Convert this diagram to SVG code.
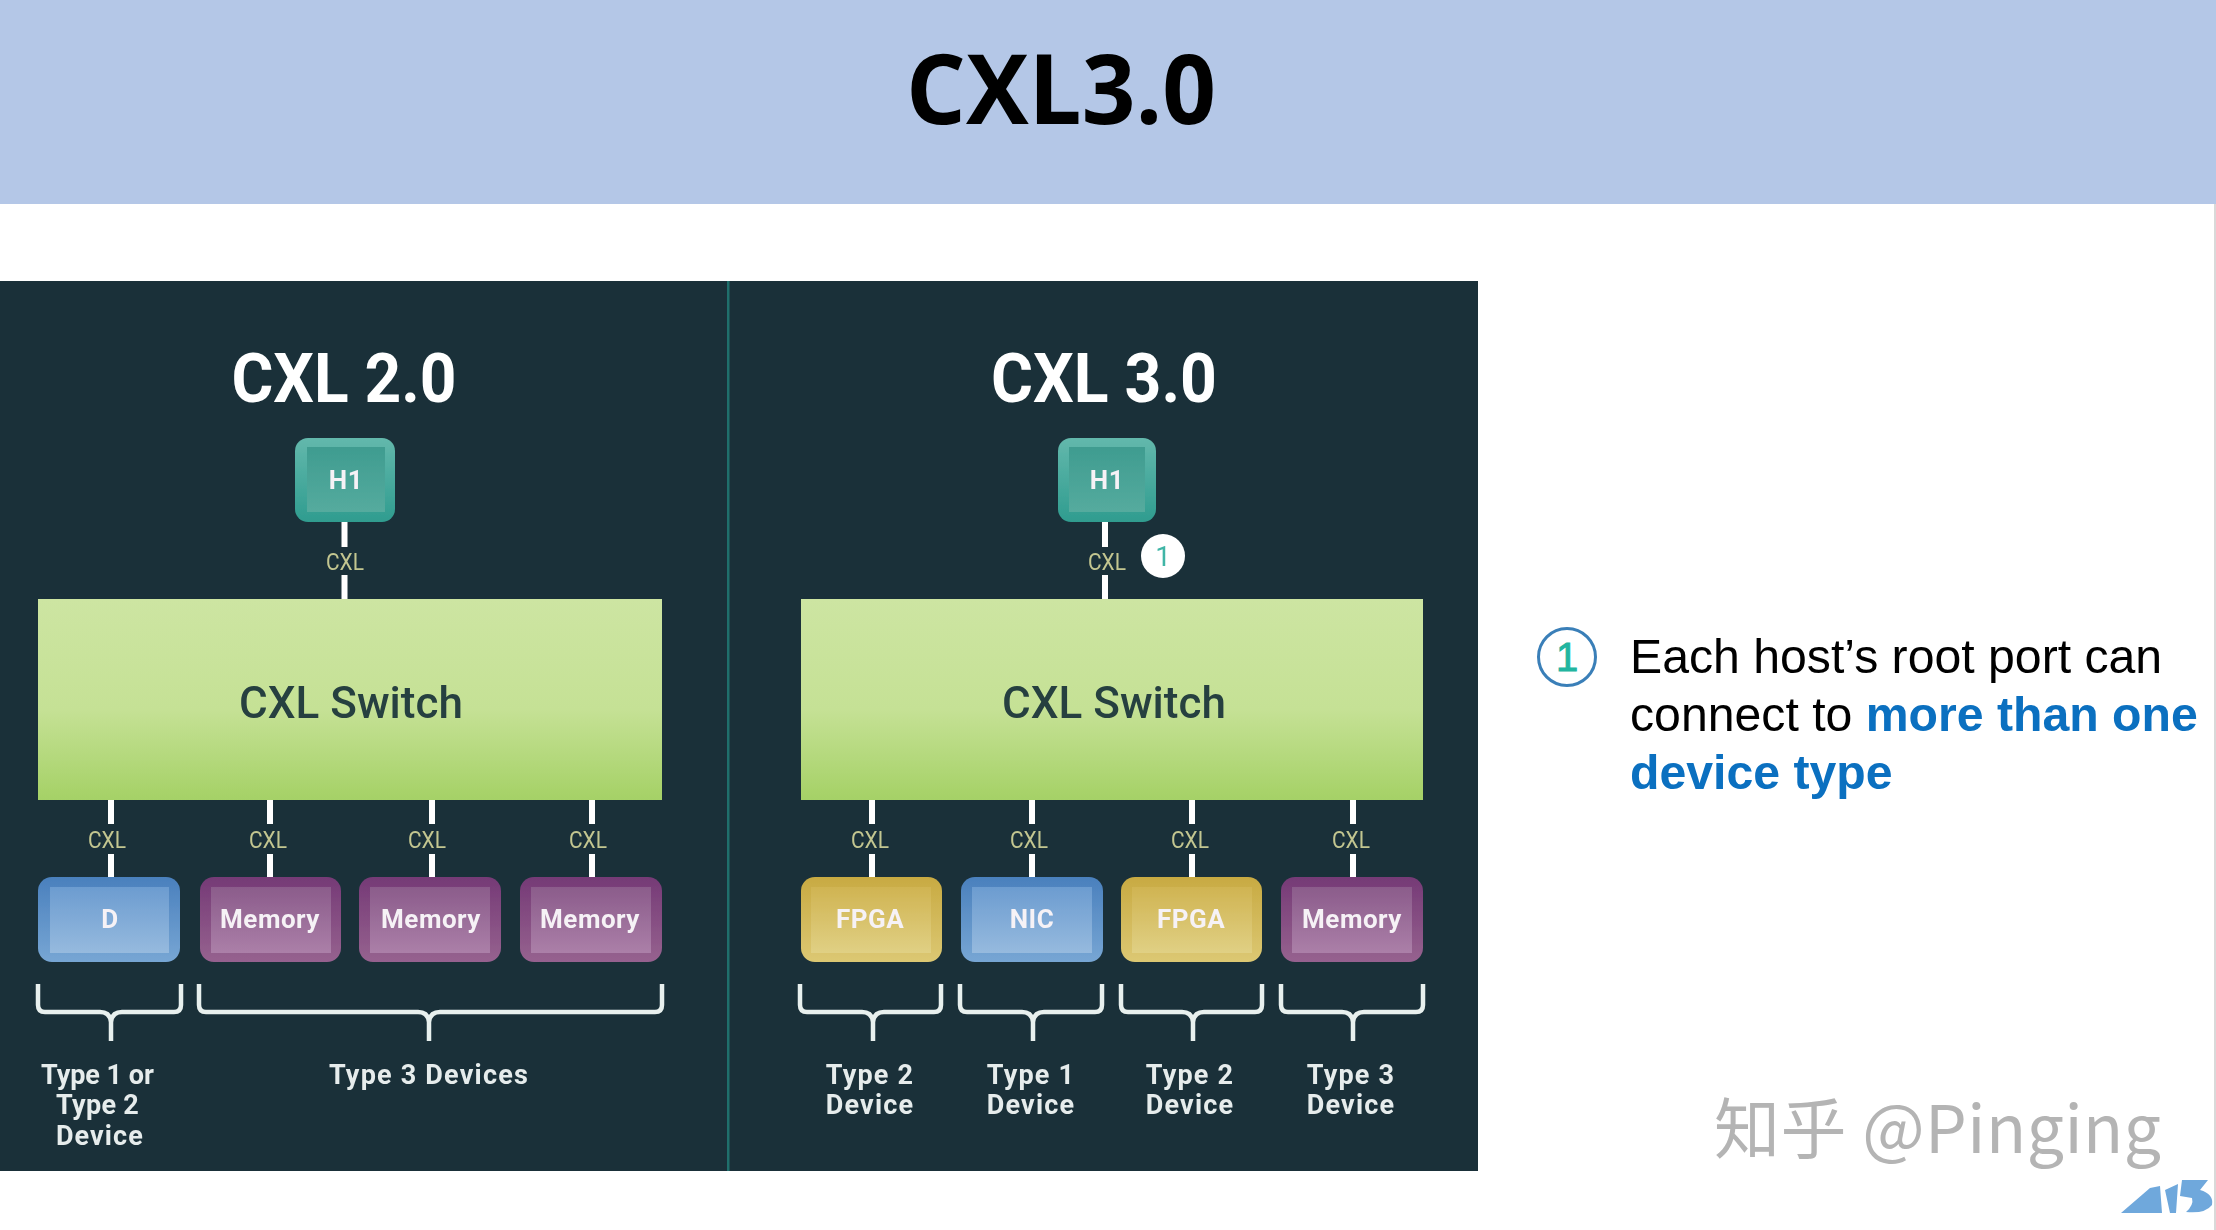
<svg xmlns="http://www.w3.org/2000/svg" width="2216" height="1230" viewBox="0 0 2216 1230">
<style>
.ln{stroke:#fff;stroke-width:6;fill:none}
.br{stroke:#e8f0ee;stroke-width:4.5;fill:none}
.cx{font:400 24px "Roboto","Liberation Sans",sans-serif;fill:#c3c690;text-anchor:middle}
.nt{font:700 26px "Roboto","Liberation Sans",sans-serif;fill:#f6f2f6;text-anchor:middle;letter-spacing:.5px}
.lb{font:700 27px "Roboto","Liberation Sans",sans-serif;fill:#e6ecec;text-anchor:middle;letter-spacing:1.200px}
.tt{font:700 68px "Roboto","Liberation Sans",sans-serif;fill:#fff;text-anchor:middle}
.sw{font:500 44px "Roboto","Liberation Sans",sans-serif;fill:#26403f;text-anchor:middle}
.bd{font:400 48.200px "Liberation Sans",Arial,sans-serif;fill:#000}
.bl{font-weight:700;fill:#0b70c0}
</style>
<defs>
<filter id="soft" x="-2%" y="-2%" width="104%" height="104%"><feGaussianBlur stdDeviation="0.6"/></filter>
<linearGradient id="gs" x1="0" y1="0" x2="0" y2="1"><stop offset="0" stop-color="#cde5a2"/><stop offset="0.55" stop-color="#c5e195"/><stop offset="1" stop-color="#a5d166"/></linearGradient>
<linearGradient id="gh" x1="0" y1="0" x2="0" y2="1"><stop offset="0" stop-color="#63b8ac"/><stop offset="1" stop-color="#2f9c8f"/></linearGradient>
<linearGradient id="ghi" x1="0" y1="0" x2="0" y2="1"><stop offset="0" stop-color="#3f9c90"/><stop offset="1" stop-color="#55ab9e"/></linearGradient>
<linearGradient id="gd" x1="0" y1="0" x2="0" y2="1"><stop offset="0" stop-color="#4a80bd"/><stop offset="1" stop-color="#77a6d4"/></linearGradient>
<linearGradient id="gdi" x1="0" y1="0" x2="0" y2="1"><stop offset="0" stop-color="#6c9cd0"/><stop offset="1" stop-color="#96bade"/></linearGradient>
<linearGradient id="gm" x1="0" y1="0" x2="0" y2="1"><stop offset="0" stop-color="#753a76"/><stop offset="1" stop-color="#96628f"/></linearGradient>
<linearGradient id="gmi" x1="0" y1="0" x2="0" y2="1"><stop offset="0" stop-color="#8b5c8b"/><stop offset="1" stop-color="#ab7fa8"/></linearGradient>
<linearGradient id="gf" x1="0" y1="0" x2="0" y2="1"><stop offset="0" stop-color="#c8aa42"/><stop offset="1" stop-color="#dcc873"/></linearGradient>
<linearGradient id="gfi" x1="0" y1="0" x2="0" y2="1"><stop offset="0" stop-color="#d0b452"/><stop offset="1" stop-color="#e0d084"/></linearGradient>
</defs>

<rect width="2216" height="1230" fill="#fff"/>
<g id="header"><rect width="2216" height="204" fill="#b4c7e7"/>
<text x="1061" y="124" font-family="'Open Sans','Noto Sans',sans-serif" font-weight="700" font-size="96" text-anchor="middle" fill="#000" textLength="310" lengthAdjust="spacingAndGlyphs">CXL3.0</text></g>
<rect x="2214" y="204" width="2" height="1026" fill="#d9d9d9"/>
<g id="panel"><rect y="281" width="1478" height="890" fill="#1a3039"/><rect x="727" y="281" width="2.500" height="890" fill="#1f6f6c"/></g>

<g filter="url(#soft)">
<g id="connectors">
<path class="ln" d="M344.500 521V547M344.500 575V600M111 800V824M111 854V877M270 800V824M270 854V877M432 800V824M432 854V877M592 800V824M592 854V877"/>
<path class="ln" d="M1105 521V547M1105 575V600M872 800V824M872 854V877M1032 800V824M1032 854V877M1192 800V824M1192 854V877M1353 800V824M1353 854V877"/>
<path class="br" d="M38 984V1005Q38 1012 45 1012H100Q110 1012 111 1022V1041M111 1022Q112 1012 122 1012H174Q181 1012 181 1005V984"/>
<path class="br" d="M199 984V1005Q199 1012 206 1012H418Q428 1012 429 1022V1041M429 1022Q430 1012 440 1012H655Q662 1012 662 1005V984"/>
<path class="br" d="M800 984V1005Q800 1012 807 1012H862Q872 1012 873 1022V1041M873 1022Q874 1012 884 1012H934Q941 1012 941 1005V984"/>
<path class="br" d="M960 984V1005Q960 1012 967 1012H1022Q1032 1012 1033 1022V1041M1033 1022Q1034 1012 1044 1012H1095Q1102 1012 1102 1005V984"/>
<path class="br" d="M1121 984V1005Q1121 1012 1128 1012H1182Q1192 1012 1193 1022V1041M1193 1022Q1194 1012 1204 1012H1255Q1262 1012 1262 1005V984"/>
<path class="br" d="M1281 984V1005Q1281 1012 1288 1012H1342Q1352 1012 1353 1022V1041M1353 1022Q1354 1012 1364 1012H1416Q1423 1012 1423 1005V984"/>
</g>

<g id="title20"><text class="tt" x="344" y="402" textLength="225" lengthAdjust="spacingAndGlyphs">CXL 2.0</text></g>
<g id="title30"><text class="tt" x="1104" y="402" textLength="226" lengthAdjust="spacingAndGlyphs">CXL 3.0</text></g>

<g id="h1-left"><rect x="295" y="438" width="100" height="84" rx="13" fill="url(#gh)"/><rect x="307" y="447" width="78" height="65" fill="url(#ghi)"/><text class="nt" x="346" y="489">H1</text></g>
<g id="h1-right"><rect x="1058" y="438" width="98" height="84" rx="13" fill="url(#gh)"/><rect x="1069" y="447" width="76" height="65" fill="url(#ghi)"/><text class="nt" x="1107" y="489">H1</text></g>

<g id="cxl-labels">
<text class="cx" x="345" y="570" textLength="38" lengthAdjust="spacingAndGlyphs">CXL</text><text class="cx" x="107" y="848" textLength="38" lengthAdjust="spacingAndGlyphs">CXL</text><text class="cx" x="268" y="848" textLength="38" lengthAdjust="spacingAndGlyphs">CXL</text><text class="cx" x="427" y="848" textLength="38" lengthAdjust="spacingAndGlyphs">CXL</text><text class="cx" x="588" y="848" textLength="38" lengthAdjust="spacingAndGlyphs">CXL</text>
<text class="cx" x="1107" y="570" textLength="38" lengthAdjust="spacingAndGlyphs">CXL</text><text class="cx" x="870" y="848" textLength="38" lengthAdjust="spacingAndGlyphs">CXL</text><text class="cx" x="1029" y="848" textLength="38" lengthAdjust="spacingAndGlyphs">CXL</text><text class="cx" x="1190" y="848" textLength="38" lengthAdjust="spacingAndGlyphs">CXL</text><text class="cx" x="1351" y="848" textLength="38" lengthAdjust="spacingAndGlyphs">CXL</text>
</g>

<g id="switch-left"><rect x="38" y="599" width="624" height="201" fill="url(#gs)"/><text class="sw" x="351" y="718">CXL Switch</text></g>
<g id="switch-right"><rect x="801" y="599" width="622" height="201" fill="url(#gs)"/><text class="sw" x="1114" y="718">CXL Switch</text></g>

<g id="dev-d"><rect x="38" y="877" width="142" height="85" rx="14" fill="url(#gd)"/><rect x="50" y="887" width="119" height="66" fill="url(#gdi)"/><text class="nt" x="110" y="928">D</text></g>
<g id="dev-m1"><rect x="200" y="877" width="141" height="85" rx="14" fill="url(#gm)"/><rect x="211" y="887" width="120" height="66" fill="url(#gmi)"/><text class="nt" x="270" y="928">Memory</text></g>
<g id="dev-m2"><rect x="359" y="877" width="142" height="85" rx="14" fill="url(#gm)"/><rect x="370" y="887" width="120" height="66" fill="url(#gmi)"/><text class="nt" x="431" y="928">Memory</text></g>
<g id="dev-m3"><rect x="520" y="877" width="142" height="85" rx="14" fill="url(#gm)"/><rect x="531" y="887" width="120" height="66" fill="url(#gmi)"/><text class="nt" x="590" y="928">Memory</text></g>
<g id="dev-f1"><rect x="801" y="877" width="141" height="85" rx="14" fill="url(#gf)"/><rect x="811" y="887" width="120" height="66" fill="url(#gfi)"/><text class="nt" x="870" y="928">FPGA</text></g>
<g id="dev-n"><rect x="961" y="877" width="142" height="85" rx="14" fill="url(#gd)"/><rect x="972" y="887" width="120" height="66" fill="url(#gdi)"/><text class="nt" x="1032" y="928">NIC</text></g>
<g id="dev-f2"><rect x="1121" y="877" width="141" height="85" rx="14" fill="url(#gf)"/><rect x="1132" y="887" width="120" height="66" fill="url(#gfi)"/><text class="nt" x="1191" y="928">FPGA</text></g>
<g id="dev-m4"><rect x="1281" y="877" width="142" height="85" rx="14" fill="url(#gm)"/><rect x="1292" y="887" width="120" height="66" fill="url(#gmi)"/><text class="nt" x="1352" y="928">Memory</text></g>

<g id="type-labels">
<text class="lb" x="98" y="1084" textLength="114">Type 1 or</text><text class="lb" x="98" y="1114" textLength="84">Type 2</text><text class="lb" x="100" y="1145" textLength="88">Device</text>
<text class="lb" x="429" y="1084">Type 3 Devices</text>
<text class="lb" x="870" y="1084">Type 2</text><text class="lb" x="870" y="1114">Device</text>
<text class="lb" x="1031" y="1084">Type 1</text><text class="lb" x="1031" y="1114">Device</text>
<text class="lb" x="1190" y="1084">Type 2</text><text class="lb" x="1190" y="1114">Device</text>
<text class="lb" x="1351" y="1084">Type 3</text><text class="lb" x="1351" y="1114">Device</text>
</g>

<g id="badge"><circle cx="1163" cy="556" r="22" fill="#fff"/><text x="1163" y="566" font-family="Roboto,'Liberation Sans',sans-serif" font-size="28" text-anchor="middle" fill="#3fb5a6">1</text></g>
</g>

<g id="note">
<circle cx="1567" cy="657" r="28.500" fill="#fff" stroke="#3a7fb8" stroke-width="3"/>
<text x="1567" y="671" font-family="'Liberation Sans',sans-serif" font-size="40" text-anchor="middle" fill="#22b5a0" stroke="#22b5a0" stroke-width="1">1</text>
<text class="bd" x="1630" y="673">Each host’s root port can</text>
<text class="bd" x="1630" y="731">connect to <tspan class="bl">more than one</tspan></text>
<text class="bd bl" x="1630" y="789">device type</text>
</g>

<g id="watermark"><text x="1714" y="1153" font-family="'Noto Sans CJK SC','Noto Sans',sans-serif" font-size="66" fill="#b4b4b4" textLength="447">知乎 @Pinging</text></g>
<path id="corner-mark" d="M2121 1213L2150 1188L2160 1186L2162 1213ZM2165 1190L2178 1184L2176 1213L2170 1213ZM2182 1180L2208 1180L2200 1190Q2214 1194 2212 1205Q2205 1214 2186 1212Q2194 1205 2192 1198L2180 1196Z" fill="#6fa8dc"/>
</svg>
